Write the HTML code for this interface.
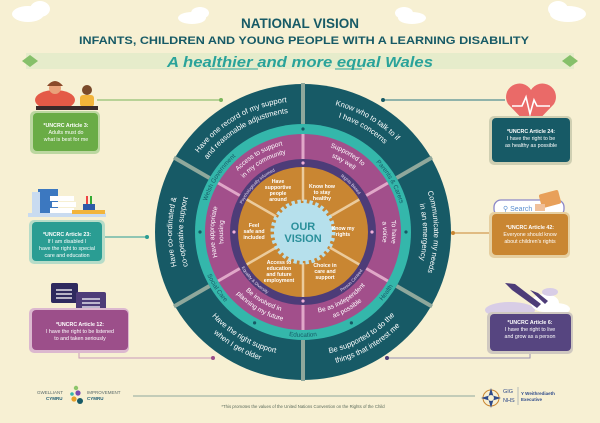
<!DOCTYPE html>
<html><head><meta charset="utf-8"><style>
html,body{margin:0;padding:0;background:#f7f0d3}
svg{display:block}
text{font-family:"Liberation Sans",sans-serif}
</style></head><body>
<svg width="600" height="423" viewBox="0 0 600 423" xmlns="http://www.w3.org/2000/svg">
<rect width="600" height="423" fill="#f7f0d3"/>
<!-- clouds -->
<g fill="#fff">
<ellipse cx="28" cy="14" rx="16" ry="8"/><ellipse cx="40" cy="9" rx="10" ry="8"/>
<ellipse cx="192" cy="18" rx="14" ry="6"/><ellipse cx="200" cy="13" rx="9" ry="6"/>
<ellipse cx="412" cy="18" rx="14" ry="6"/><ellipse cx="404" cy="13" rx="9" ry="6"/>
<ellipse cx="568" cy="14" rx="18" ry="8"/><ellipse cx="558" cy="9" rx="10" ry="8"/>
</g>
<text x="300" y="28" text-anchor="middle" font-size="13.5" font-weight="bold" fill="#175a66">NATIONAL VISION</text>
<text x="304" y="44" text-anchor="middle" font-size="11" font-weight="bold" fill="#175a66" textLength="450" lengthAdjust="spacingAndGlyphs">INFANTS, CHILDREN AND YOUNG PEOPLE WITH A LEARNING DISABILITY</text>
<rect x="26" y="53" width="548" height="16" fill="#e6eccb"/>
<polygon points="22,61 30,55 38,61 30,67" fill="#86c06a"/>
<polygon points="562,61 570,55 578,61 570,67" fill="#86c06a"/>
<text x="300" y="67" text-anchor="middle" font-size="15" font-weight="bold" font-style="italic" fill="#2aa39a" textLength="266" lengthAdjust="spacingAndGlyphs">A healthier and more equal Wales</text>
<line x1="210" y1="69" x2="258" y2="69" stroke="#2aa39a" stroke-width="1"/>
<line x1="335" y1="69" x2="362" y2="69" stroke="#2aa39a" stroke-width="1"/>

<!-- connectors -->
<g stroke-width="1" fill="none">
<line x1="97" y1="100" x2="221" y2="100" stroke="#7ab55a"/>
<line x1="105" y1="237" x2="147" y2="237" stroke="#2a9d93"/>
<polyline points="79,351 79,358 213,358" stroke="#c99ab9"/>
<line x1="383" y1="100" x2="505" y2="100" stroke="#2a7680"/>
<line x1="453" y1="233" x2="492" y2="233" stroke="#c98632"/>
<polyline points="387,358 530,358 530,351" stroke="#9a90b0"/>
</g>
<circle cx="221" cy="100" r="2" fill="#7ab55a"/>
<circle cx="147" cy="237" r="2" fill="#2a9d93"/>
<circle cx="213" cy="358" r="2" fill="#9c4f8a"/>
<circle cx="383" cy="100" r="2" fill="#175a66"/>
<circle cx="453" cy="233" r="2" fill="#c98632"/>
<circle cx="387" cy="358" r="2" fill="#4d3c78"/>

<!-- left illustrations -->
<g>
<ellipse cx="55" cy="100" rx="20" ry="10" fill="#e45a47"/>
<circle cx="55" cy="88" r="6" fill="#e9a27a"/><path d="M47,86 q8,-10 16,0 z" fill="#8a4a2a"/>
<rect x="80" y="95" width="14" height="12" rx="3" fill="#f2b43a"/>
<circle cx="87" cy="90" r="5" fill="#7a4a2a"/>
<rect x="36" y="106" width="62" height="4" fill="#3a2a2a"/>
</g>
<g>
<rect x="38" y="189" width="20" height="28" fill="#3c78c0"/>
<rect x="32" y="192" width="8" height="25" fill="#c9dbf0"/>
<rect x="50" y="196" width="24" height="5" fill="#fff"/>
<rect x="52" y="202" width="24" height="5" fill="#fff"/>
<rect x="50" y="208" width="24" height="6" fill="#fff"/>
<rect x="83" y="204" width="12" height="10" fill="#2e5aa8"/>
<rect x="86" y="196" width="2" height="8" fill="#e44"/><rect x="90" y="196" width="2" height="8" fill="#3a3"/>
<rect x="28" y="213" width="78" height="4" fill="#c9dbf0"/>
<rect x="72" y="210" width="33" height="4" fill="#f2b43a"/>
</g>
<g>
<rect x="51" y="283" width="27" height="20" rx="2" fill="#2e2a5e"/>
<rect x="76" y="292" width="30" height="22" rx="2" fill="#4d3c78"/>
<g stroke="#fff" stroke-width="1.3"><line x1="56" y1="290" x2="72" y2="290"/><line x1="56" y1="294" x2="72" y2="294"/><line x1="56" y1="298" x2="72" y2="298"/>
<line x1="82" y1="299" x2="100" y2="299"/><line x1="82" y1="303" x2="100" y2="303"/><line x1="82" y1="307" x2="100" y2="307"/></g>
</g>

<!-- left boxes -->
<rect x="30" y="111" width="70" height="43" rx="5" fill="#bcd7a0"/>
<rect x="33" y="113" width="65" height="38" rx="4" fill="#6aac46"/>
<g fill="#fff" font-size="5.3" text-anchor="middle">
<text x="66" y="127" font-weight="bold">*UNCRC Article 3:</text>
<text x="66" y="134">Adults must do</text>
<text x="66" y="141">what is best for me</text>
</g>
<rect x="29" y="220" width="76" height="44" rx="5" fill="#b6dcc8"/>
<rect x="32" y="222" width="70" height="39" rx="4" fill="#2a9d93"/>
<g fill="#fff" font-size="5.3" text-anchor="middle">
<text x="67" y="236" font-weight="bold">*UNCRC Article 23:</text>
<text x="67" y="243">If I am disabled I</text>
<text x="67" y="250">have the right to special</text>
<text x="67" y="257">care and education</text>
</g>
<rect x="29" y="308" width="100" height="45" rx="5" fill="#dcb8cf"/>
<rect x="32" y="310" width="96" height="40" rx="4" fill="#9c4f8a"/>
<g fill="#fff" font-size="5.3" text-anchor="middle">
<text x="80" y="326" font-weight="bold">*UNCRC Article 12:</text>
<text x="80" y="333">I have the right to be listened</text>
<text x="80" y="340">to and taken seriously</text>
</g>

<!-- right illustrations -->
<path d="M531,128 L508,104 A13,13 0 0 1 531,90 A13,13 0 0 1 554,104 Z" fill="#ea6a68"/>
<polyline points="512,106 522,106 526,97 530,114 534,100 537,106 550,106" fill="none" stroke="#fff" stroke-width="1.6"/>
<rect x="494" y="200" width="70" height="16" rx="7" fill="#fff" stroke="#8a86c8" stroke-width="1.3"/>
<text x="503" y="211" font-size="7" fill="#5b8fd0">⚲ Search</text>
<rect x="540" y="192" width="20" height="14" rx="2" fill="#e8a05a" transform="rotate(-15 550 199)"/>
<rect x="535" y="204" width="10" height="7" fill="#f0c09a"/>
<ellipse cx="510" cy="310" rx="25" ry="8" fill="#d8cde6"/>
<ellipse cx="545" cy="303" rx="14" ry="9" fill="#fff"/>
<ellipse cx="556" cy="309" rx="14" ry="6" fill="#fff"/>
<ellipse cx="550" cy="292" rx="8" ry="4" fill="#d8cde6"/>
<g fill="#4d3c78"><polygon points="505,283 515,284 541,304 537,308 512,290"/><polygon points="530,290 538,293 548,301 545,304"/></g>

<!-- right boxes -->
<rect x="489" y="116" width="83" height="49" rx="5" fill="#cfcfb2"/>
<rect x="492" y="118" width="78" height="44" rx="4" fill="#175a66"/>
<g fill="#fff" font-size="5.3" text-anchor="middle">
<text x="531" y="133" font-weight="bold">*UNCRC Article 24:</text>
<text x="531" y="140">I have the right to be</text>
<text x="531" y="147">as healthy as possible</text>
</g>
<rect x="489" y="212" width="81" height="46" rx="5" fill="#e6cfa0"/>
<rect x="492" y="214" width="76" height="41" rx="4" fill="#c98632"/>
<g fill="#fff" font-size="5.3" text-anchor="middle">
<text x="530" y="229" font-weight="bold">*UNCRC Article 42:</text>
<text x="530" y="236">Everyone should know</text>
<text x="530" y="243">about children's rights</text>
</g>
<rect x="487" y="312" width="86" height="42" rx="5" fill="#cfc8c0"/>
<rect x="490" y="314" width="81" height="37" rx="4" fill="#564580"/>
<g fill="#fff" font-size="5.3" text-anchor="middle">
<text x="530" y="324" font-weight="bold">*UNCRC Article 6:</text>
<text x="530" y="331">I have the right to live</text>
<text x="530" y="338">and grow as a person</text>
</g>

<!-- wheel -->
<defs>
<path id="t131" d="M-113.4,-65.5 A131,131 0 0 1 113.4,-65.5"/>
<path id="t120" d="M-103.9,-60 A120,120 0 0 1 103.9,-60"/>
<path id="b124" d="M-107.4,62 A124,124 0 0 0 107.4,62"/>
<path id="b135" d="M-116.9,67.5 A135,135 0 0 0 116.9,67.5"/>
<path id="t101" d="M-87.5,-50.5 A101,101 0 0 1 87.5,-50.5"/>
<path id="b105" d="M-90.9,52.5 A105,105 0 0 0 90.9,52.5"/>
<path id="t89" d="M-77.1,-44.5 A89,89 0 0 1 77.1,-44.5"/>
<path id="t80" d="M-69.3,-40 A80,80 0 0 1 69.3,-40"/>
<path id="b82" d="M-71,41 A82,82 0 0 0 71,41"/>
<path id="b91" d="M-78.8,45.5 A91,91 0 0 0 78.8,45.5"/>
<path id="t67" d="M-58,-33.5 A67,67 0 0 1 58,-33.5"/>
<path id="b71" d="M-61.5,35.5 A71,71 0 0 0 61.5,35.5"/>
</defs>
<g transform="translate(303,232)">
<circle r="148" fill="#175a66"/>
<circle r="108" fill="#34b7ab"/>
<circle r="98" fill="#a24f8b"/>
<circle r="73" fill="#4d3c78"/>
<circle r="65" fill="#c98632"/>
<g id="divs">
<g stroke="#8fa89c" stroke-width="4"><line x1="0" y1="-108" x2="0" y2="-149"/><line x1="0" y1="108" x2="0" y2="149"/></g>
<g stroke="#e0a7c8" stroke-width="3"><line x1="0" y1="-73" x2="0" y2="-98"/><line x1="0" y1="73" x2="0" y2="98"/></g>
<g stroke="#ebcb9c" stroke-width="2.5"><line x1="0" y1="-31" x2="0" y2="-65"/><line x1="0" y1="31" x2="0" y2="65"/></g>
</g>
<use href="#divs" transform="rotate(60)"/>
<use href="#divs" transform="rotate(120)"/>
<!-- gear -->
<circle r="29" fill="#b6e0ec"/>
<circle r="30" fill="none" stroke="#b6e0ec" stroke-width="5" stroke-dasharray="3.3 2.6"/>
<text y="-2" text-anchor="middle" font-size="11" font-weight="bold" fill="#2a8f9a">OUR</text>
<text y="10" text-anchor="middle" font-size="11" font-weight="bold" fill="#2a8f9a">VISION</text>
<!-- dots -->
<g fill="#175a66"><circle cy="-103" r="1.6"/><circle cx="103" r="1.6"/><circle cx="-103" r="1.6"/>
<circle cx="48.4" cy="90.9" r="1.6"/><circle cx="-48.4" cy="90.9" r="1.6"/></g>
<g fill="#f0b0d8"><circle cy="-69" r="1.6"/><circle cy="69" r="1.6"/><circle cx="69" r="1.6"/><circle cx="-69" r="1.6"/></g>

<!-- outer ring text -->
<g fill="#fff" font-size="7.6" text-anchor="middle">
<g transform="rotate(-30)"><text><textPath href="#t131" startOffset="50%">Have one record of my support</textPath></text><text><textPath href="#t120" startOffset="50%">and reasonable adjustments</textPath></text></g>
<g transform="rotate(30)"><text><textPath href="#t131" startOffset="50%">Know who to talk to if</textPath></text><text><textPath href="#t120" startOffset="50%">I have concerns</textPath></text></g>
<g transform="rotate(90)"><text><textPath href="#t131" startOffset="50%">Communicate my needs</textPath></text><text><textPath href="#t120" startOffset="50%">in an emergency</textPath></text></g>
<g transform="rotate(-90)"><text><textPath href="#t131" startOffset="50%">Have co-ordinated &amp;</textPath></text><text><textPath href="#t120" startOffset="50%">co-operative support</textPath></text></g>
<g transform="rotate(-30)"><text><textPath href="#b124" startOffset="50%">Be supported to do the</textPath></text><text><textPath href="#b135" startOffset="50%">things that interest me</textPath></text></g>
<g transform="rotate(30)"><text><textPath href="#b124" startOffset="50%">Have the right support</textPath></text><text><textPath href="#b135" startOffset="50%">when I get older</textPath></text></g>
</g>
<!-- teal ring labels -->
<g fill="#175a66" font-size="6.3" text-anchor="middle">
<g transform="rotate(-57)"><text><textPath href="#t101" startOffset="50%">Welsh Government</textPath></text></g>
<g transform="rotate(60)"><text><textPath href="#t101" startOffset="50%">Parents &amp; Carers</textPath></text></g>
<g transform="rotate(-54)"><text><textPath href="#b105" startOffset="50%">Health</textPath></text></g>
<g><text><textPath href="#b105" startOffset="50%">Education</textPath></text></g>
<g transform="rotate(57)"><text><textPath href="#b105" startOffset="50%">Social Care</textPath></text></g>
</g>
<!-- magenta ring text -->
<g fill="#fff" font-size="6.6" text-anchor="middle">
<g transform="rotate(-30)"><text><textPath href="#t89" startOffset="50%">Access to support</textPath></text><text><textPath href="#t80" startOffset="50%">in my community</textPath></text></g>
<g transform="rotate(30)"><text><textPath href="#t89" startOffset="50%">Supported to</textPath></text><text><textPath href="#t80" startOffset="50%">stay well</textPath></text></g>
<g transform="rotate(90)"><text><textPath href="#t89" startOffset="50%">To have</textPath></text><text><textPath href="#t80" startOffset="50%">a voice</textPath></text></g>
<g transform="rotate(-90)"><text><textPath href="#t89" startOffset="50%">Have appropriate</textPath></text><text><textPath href="#t80" startOffset="50%">housing</textPath></text></g>
<g transform="rotate(-30)"><text><textPath href="#b82" startOffset="50%">Be as independent</textPath></text><text><textPath href="#b91" startOffset="50%">as possible</textPath></text></g>
<g transform="rotate(30)"><text><textPath href="#b82" startOffset="50%">Be involved in</textPath></text><text><textPath href="#b91" startOffset="50%">planning my future</textPath></text></g>
</g>
<!-- purple ring labels -->
<g fill="#e6dcf0" font-size="4.3" text-anchor="middle">
<g transform="rotate(-45)"><text><textPath href="#t67" startOffset="50%">Psychologically informed</textPath></text></g>
<g transform="rotate(45)"><text><textPath href="#t67" startOffset="50%">Rights Based</textPath></text></g>
<g transform="rotate(-45)"><text><textPath href="#b71" startOffset="50%">Person Centred</textPath></text></g>
<g transform="rotate(45)"><text><textPath href="#b71" startOffset="50%">Equality &amp; Diversity</textPath></text></g>
</g>
<!-- orange sector text -->
<g fill="#fff" font-size="5.2" font-weight="bold" text-anchor="middle">
<text x="-25" y="-49">Have</text><text x="-25" y="-43">supportive</text><text x="-25" y="-37">people</text><text x="-25" y="-31">around</text>
<text x="19" y="-44">Know how</text><text x="19" y="-38">to stay</text><text x="19" y="-32">healthy</text>
<text x="40" y="-2">Know my</text><text x="40" y="4">rights</text>
<text x="-49" y="-5">Feel</text><text x="-49" y="1">safe and</text><text x="-49" y="7">included</text>
<text x="-24" y="32">Access to</text><text x="-24" y="38">education</text><text x="-24" y="44">and future</text><text x="-24" y="50">employment</text>
<text x="22" y="35">Choice in</text><text x="22" y="41">care and</text><text x="22" y="47">support</text>
</g>
</g>

<!-- footer -->
<line x1="133" y1="396" x2="475" y2="396" stroke="#8fa89c" stroke-width="1"/>
<text x="303" y="408" text-anchor="middle" font-size="4.3" fill="#5a6a5a">*This promotes the values of the United Nations Convention on the Rights of the Child</text>
<g font-size="4.5" fill="#5a6a6a">
<text x="37" y="394">GWELLIANT</text><text x="46" y="400" font-weight="bold" fill="#1a5a73">CYMRU</text>
<text x="87" y="394">IMPROVEMENT</text><text x="87" y="400" font-weight="bold" fill="#1a5a73">CYMRU</text>
</g>
<circle cx="76" cy="388" r="2.2" fill="#8cc56a"/><circle cx="78" cy="393" r="2.6" fill="#7a4ab0"/>
<circle cx="74" cy="399" r="2.6" fill="#e8a02a"/><circle cx="80" cy="401" r="3" fill="#175a66"/><circle cx="72" cy="394" r="1.8" fill="#34b7ab"/>
<g transform="translate(491,398)"><circle r="8" fill="none" stroke="#c98632" stroke-width="1"/><path d="M0,-10 L3,0 0,10 -3,0Z M-10,0 L0,3 10,0 0,-3Z" fill="#2e4a8a"/></g>
<text x="503" y="393" font-size="5.5" fill="#2e4a8a">GIG</text><text x="503" y="402" font-size="5.5" fill="#2e4a8a">NHS</text>
<line x1="518" y1="387" x2="518" y2="405" stroke="#8a9aaa" stroke-width="0.6"/>
<text x="521" y="395" font-size="4.5" font-weight="bold" fill="#2e4a8a">Y Weithrediaeth</text>
<text x="521" y="401" font-size="4.5" font-weight="bold" fill="#2e4a8a">Executive</text>
</svg>
</body></html>
